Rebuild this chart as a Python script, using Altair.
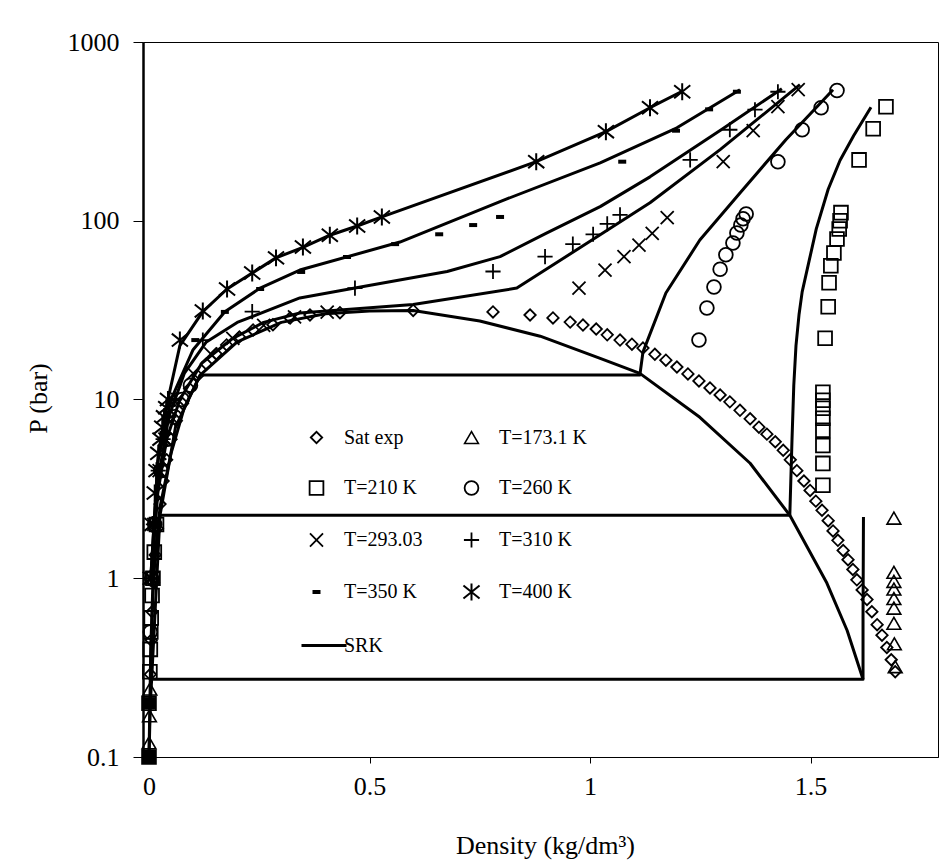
import altair as alt
import pandas as pd

# ---------------- experimental data (density kg/dm3, pressure bar) ----------------
sat_x = [0.003, 0.005, 0.007, 0.010, 0.014, 0.019, 0.025, 0.032, 0.040, 0.050, 0.062, 0.076,
         0.092, 0.110, 0.130, 0.152, 0.176, 0.205, 0.236, 0.281, 0.320, 0.365, 0.433, 0.599,
         0.780, 0.864, 0.916, 0.955, 0.984, 1.014, 1.039, 1.068, 1.095, 1.120, 1.147, 1.172,
         1.197, 1.222, 1.247, 1.272, 1.295, 1.317, 1.340, 1.363, 1.383, 1.401, 1.420, 1.438,
         1.454, 1.469, 1.485, 1.499, 1.512, 1.526, 1.540, 1.551, 1.562, 1.574, 1.585, 1.596,
         1.605, 1.617, 1.628, 1.639, 1.651, 1.662, 1.673, 1.683, 1.692]
sat_p = [0.29, 0.45, 0.65, 0.95, 1.35, 1.9, 2.6, 3.5, 4.6, 6.0, 7.6, 9.5,
         11.5, 13.6, 15.8, 18.0, 20.2, 22.4, 24.5, 26.2, 28.6, 29.7, 30.6, 31.5,
         30.9, 29.7, 28.6, 27.1, 26.1, 24.8, 23.0, 21.5, 20.4, 19.4, 17.9, 16.6,
         15.2, 13.9, 12.7, 11.6, 10.6, 9.7, 8.7, 7.8, 7.0, 6.4, 5.8, 5.2,
         4.6, 4.0, 3.5, 3.1, 2.7, 2.4, 2.1, 1.84, 1.63, 1.43, 1.27, 1.12,
         0.98, 0.86, 0.76, 0.65, 0.55, 0.48, 0.41, 0.35, 0.30]

t173_x = [0.0, 0.001, 0.002,
          1.689, 1.689, 1.689, 1.689, 1.689, 1.689, 1.689, 1.690, 1.692]
t173_p = [0.12, 0.17, 0.24,
          2.17, 1.08, 0.96, 0.87, 0.77, 0.68, 0.56, 0.43, 0.32]

t210_x = [0.0, 0.0, 0.002, 0.003, 0.004, 0.005, 0.007, 0.009, 0.012, 0.017,
          1.528, 1.528, 1.528, 1.528, 1.528, 1.528, 1.528, 1.528,
          1.533, 1.540, 1.542, 1.546, 1.553, 1.560, 1.565, 1.567, 1.569,
          1.610, 1.642, 1.671]
t210_p = [0.1, 0.2, 0.3, 0.4, 0.5, 0.6, 0.8, 1.0, 1.4, 2.0,
          3.31, 4.39, 5.53, 6.72, 7.85, 8.93, 9.9, 10.97,
          22, 33, 45, 56, 66, 79, 90, 100, 111,
          219, 327, 434]

t260_x = [0.003, 0.006, 0.013, 0.027, 0.042, 0.058, 0.075, 0.094,
          1.247, 1.265, 1.281, 1.295, 1.308, 1.324, 1.333, 1.342, 1.347, 1.354,
          1.426, 1.481, 1.524, 1.560]
t260_p = [0.5, 1, 2, 4, 6, 8, 10, 12,
          21.5, 32.5, 42.6, 53.5, 64.5, 75, 85.4, 94.6, 102.6, 109,
          214, 323, 429, 535]

t293_x = [0.005, 0.011, 0.023, 0.036, 0.050, 0.065, 0.100, 0.140, 0.190, 0.260, 0.330, 0.404,
          0.975, 1.034, 1.077, 1.111, 1.141, 1.175, 1.302, 1.370, 1.426, 1.472]
t293_p = [1, 2, 4, 6, 8, 10, 14, 18, 22, 26, 29, 30.8,
          42, 53, 63, 73, 85, 104, 214, 319, 435, 541]

t310_x = [0.005, 0.010, 0.021, 0.032, 0.045, 0.058, 0.122, 0.234, 0.467,
          0.780, 0.898, 0.961, 1.007, 1.039, 1.068, 1.227, 1.317, 1.374, 1.426]
t310_p = [1, 2, 4, 6, 8, 10, 21.5, 31, 42,
          52, 63, 74, 84, 96, 108, 219, 323, 418, 527]

t350_x = [0.005, 0.009, 0.019, 0.029, 0.039, 0.050, 0.105, 0.172, 0.252, 0.345, 0.449, 0.558,
          0.658, 0.735, 0.796, 1.073, 1.195, 1.270, 1.333]
t350_p = [1, 2, 4, 6, 8, 10, 21.5, 30.9, 41.5, 51.7, 62.7, 74,
          84, 94.6, 105, 214, 319, 420, 527]

t400_x = [0.004, 0.008, 0.013, 0.017, 0.021, 0.026, 0.030, 0.034, 0.039, 0.043,
          0.070, 0.122, 0.177, 0.234, 0.288, 0.349, 0.410, 0.472, 0.528,
          0.878, 1.036, 1.136, 1.209]
t400_p = [1, 2, 3, 4, 5, 6, 7, 8, 9, 10,
          21.5, 31.3, 41.5, 51, 62, 71.3, 83, 93.5, 105,
          214, 315, 429, 527]

# ---------------- SRK curves ----------------
srk173_x = [0.0, 0.003, 0.006, 1.619, 1.619, 1.620]
srk173_p = [0.1, 0.2, 0.272, 0.272, 0.6, 2.2]

srk210_x = [0.0, 0.002, 0.004, 0.008, 0.014, 0.025, 1.453, 1.458, 1.462, 1.467, 1.474,
            1.481, 1.497, 1.513, 1.540, 1.567, 1.598, 1.637]
srk210_p = [0.1, 0.2, 0.4, 0.8, 1.4, 2.25, 2.25, 6, 12, 20, 30,
            40, 60, 90, 150, 218, 300, 432]

srk260_x = [0.003, 0.010, 0.025, 0.050, 0.080, 0.116, 1.113, 1.120, 1.172, 1.249, 1.340, 1.444, 1.551]
srk260_p = [0.3, 1, 2.5, 5, 9, 13.7, 13.7, 18.4, 39.4, 78, 143, 284, 541]

srk293_x = [0.005, 0.020, 0.040, 0.070, 0.120, 0.190, 0.260, 0.342, 0.599, 0.834, 1.023, 1.136, 1.295, 1.476]
srk293_p = [1, 3, 6, 10, 16, 22, 27, 30.5, 34, 42, 83.5, 126, 250, 577]

srk310_x = [0.005, 0.020, 0.045, 0.080, 0.130, 0.200, 0.342, 0.467, 0.676, 0.796, 0.900, 1.023, 1.136, 1.300, 1.435]
srk310_p = [1, 3.5, 8, 14, 21, 27, 37, 42, 52, 63, 85, 120, 176, 326, 548]

srk350_x = [0.004, 0.020, 0.050, 0.100, 0.172, 0.252, 0.342, 0.569, 0.796, 1.023, 1.197, 1.340]
srk350_p = [1, 4.5, 10, 19, 31, 42, 53, 76, 128, 211, 331, 541]

srk400_x = [0.004, 0.021, 0.043, 0.070, 0.122, 0.177, 0.234, 0.288, 0.349, 0.410, 0.472, 0.528,
            0.878, 1.036, 1.136, 1.209]
srk400_p = [1, 5, 10, 20, 31, 41.5, 51, 62, 71, 83, 93.5, 105, 214, 315, 429, 530]

dome_x = [0.006, 0.025, 0.060, 0.116, 0.200, 0.300, 0.400, 0.500, 0.599, 0.750, 0.887, 1.023,
          1.113, 1.249, 1.363, 1.453, 1.537, 1.583, 1.619]
dome_p = [0.272, 2.25, 7, 13.7, 21, 27, 30.2, 31.3, 31.5, 27.5, 22.6, 17.0,
          14.0, 7.95, 4.4, 2.25, 0.94, 0.51, 0.272]

# legend entries, listed column by column (two columns)
series_names = ["Sat exp", "T=210 K", "T=293.03", "T=350 K", "SRK",
                "T=173.1 K", "T=260 K", "T=310 K", "T=400 K"]

# ---------------- tables ----------------
exp_sets = [
    ("Sat exp", sat_x, sat_p), ("T=173.1 K", t173_x, t173_p), ("T=210 K", t210_x, t210_p),
    ("T=260 K", t260_x, t260_p), ("T=293.03", t293_x, t293_p), ("T=310 K", t310_x, t310_p),
    ("T=350 K", t350_x, t350_p), ("T=400 K", t400_x, t400_p),
]
exp_rows = []
for name, xs, ps in exp_sets:
    for xv, pv in zip(xs, ps):
        exp_rows.append({"series": name, "density": xv, "P": pv})
exp_df = pd.DataFrame(exp_rows)

srk_sets = [
    ("173", srk173_x, srk173_p), ("210", srk210_x, srk210_p), ("260", srk260_x, srk260_p),
    ("293", srk293_x, srk293_p), ("310", srk310_x, srk310_p), ("350", srk350_x, srk350_p),
    ("400", srk400_x, srk400_p), ("dome", dome_x, dome_p),
]
srk_rows = []
for name, xs, ps in srk_sets:
    for i, (xv, pv) in enumerate(zip(xs, ps)):
        srk_rows.append({"curve": name, "seq": i, "density": xv, "P": pv})
srk_df = pd.DataFrame(srk_rows)

# lowest-pressure vapour squares, drawn solid on the SRK line
vap_df = exp_df[(exp_df["series"] == "T=210 K") & (exp_df["P"] <= 0.2)]

# ---------------- scales & encodings ----------------
x_scale = alt.Scale(domain=[-0.0136, 1.789], nice=False, zero=False)
y_scale = alt.Scale(type="log", domain=[0.1, 1000], nice=False)

SERIF = "Liberation Serif"

x_axis = alt.Axis(values=[0, 0.5, 1, 1.5], format="~g", grid=False, tickSize=6,
                  labelPadding=10, domainWidth=1, title="Density (kg/dm³)", titleX=402, titleY=96,
                  titleBaseline="alphabetic", titleAlign="center")
y_axis = alt.Axis(values=[0.1, 1, 10, 100, 1000], format="~g", grid=False, tickSize=10,
                  labelPadding=14, domainWidth=2.5, title="P (bar)", titleAngle=-90,
                  titleX=-105, titleY=356, titleAlign="center", titleBaseline="middle")

asterisk = "M-1,-0.8L1,0.8M-1,0.8L1,-0.8M0,-1.05L0,1.05"
xcross = "M-1,-1L1,1M-1,1L1,-1"
plus = "M0,-1L0,1M-1,0L1,0"
dash = "M-1,0L1,0"
srk_line = "M-1.5,0L3,0"

style = {
    "Sat exp": ("diamond", 130, 1.8),
    "T=173.1 K": ("triangle-up", 190, 1.6),
    "T=210 K": ("square", 190, 1.8),
    "T=260 K": ("circle", 190, 1.8),
    "T=293.03": (xcross, 170, 1.8),
    "T=310 K": (plus, 230, 1.8),
    "T=350 K": (dash, 64, 4.0),
    "T=400 K": (asterisk, 260, 2.0),
    "SRK": (srk_line, 400, 3.0),
}
shape_range = [style[s][0] for s in series_names]
size_range = [style[s][1] for s in series_names]
sw_range = [style[s][2] for s in series_names]

legend = alt.Legend(orient="none", legendX=162, legendY=384, columns=2, title=None,
                    labelFont=SERIF, labelFontSize=20, rowPadding=26, columnPadding=27,
                    gridAlign="all",
                    symbolStrokeColor="black", symbolFillColor="transparent",
                    labelOffset=16, labelColor="black")

lines = alt.Chart(srk_df).mark_line(color="black", strokeWidth=3, strokeJoin="round").encode(
    x=alt.X("density:Q", scale=x_scale, axis=x_axis),
    y=alt.Y("P:Q", scale=y_scale, axis=y_axis),
    detail="curve:N",
    order="seq:Q",
)

points = alt.Chart(exp_df).mark_point(filled=False, opacity=1, color="black").encode(
    x=alt.X("density:Q", scale=x_scale),
    y=alt.Y("P:Q", scale=y_scale),
    shape=alt.Shape("series:N", scale=alt.Scale(domain=series_names, range=shape_range), legend=legend),
    size=alt.Size("series:N", scale=alt.Scale(type="ordinal", domain=series_names, range=size_range), legend=legend),
    strokeWidth=alt.StrokeWidth("series:N", scale=alt.Scale(type="ordinal", domain=series_names, range=sw_range), legend=legend),
)

solid = alt.Chart(vap_df).mark_point(filled=True, opacity=1, color="black", shape="square", size=150).encode(
    x=alt.X("density:Q", scale=x_scale),
    y=alt.Y("P:Q", scale=y_scale),
)

chart = alt.layer(lines, points, solid).properties(
    width=795, height=715,
    autosize=alt.AutoSizeParams(type="none"),
    padding={"left": 143, "top": 42, "right": 2, "bottom": 105},
).configure(
    background="white"
).configure_view(
    stroke="black", strokeWidth=1
).configure_axis(
    labelFont=SERIF, labelFontSize=26, labelColor="black",
    titleFont=SERIF, titleFontSize=26, titleFontWeight="normal", titleColor="black",
    domainColor="black", tickColor="black",
)

chart.save("out.html", embed_options={"renderer": "svg", "actions": False})
